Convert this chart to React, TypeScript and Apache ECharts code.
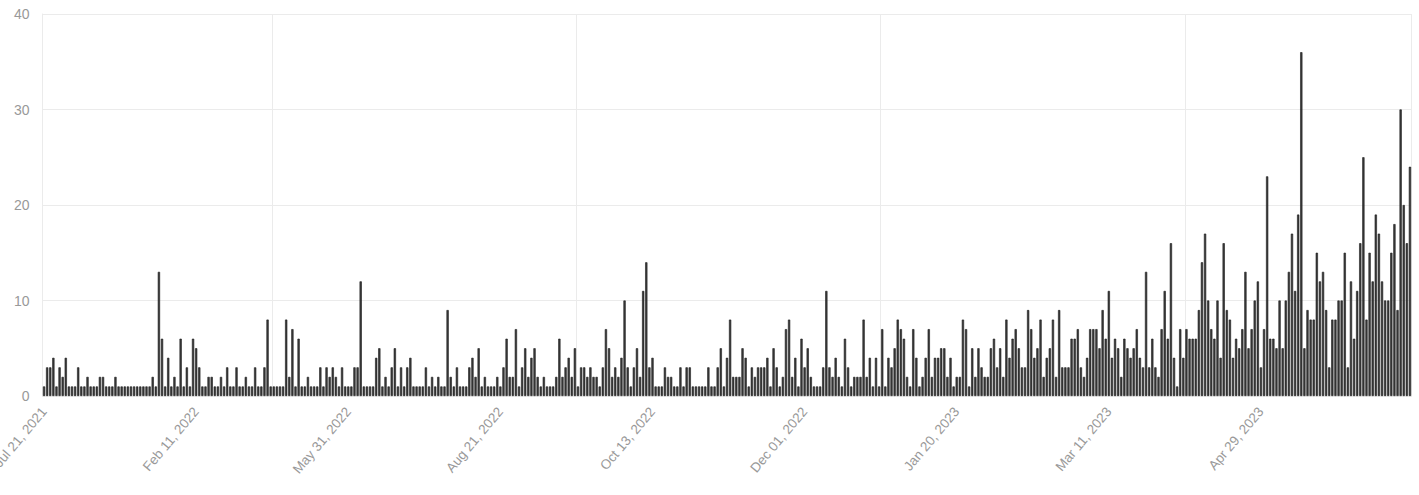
import * as echarts from 'echarts'
import { useEffect, useRef } from 'react'

/** 每日数量（从左到右，一根柱子一天） */
const dailyCounts = [
  1, 3, 3, 4, 1, 3, 2, 4, 1, 1, 1, 3, 1, 1, 2, 1, 1, 1, 2, 2, 1, 1, 1, 2, 1, 1, 1, 1, 1, 1, 1, 1, 1, 1, 1, 2,
  1, 13, 6, 1, 4, 1, 2, 1, 6, 1, 3, 1, 6, 5, 3, 1, 1, 2, 2, 1, 1, 2, 1, 3, 1, 1, 3, 1, 1, 2, 1, 1, 3, 1, 1, 3, 8,
  1, 1, 1, 1, 1, 8, 2, 7, 1, 6, 1, 1, 2, 1, 1, 1, 3, 1, 3, 2, 3, 2, 1, 3, 1, 1, 1, 3, 3, 12, 1, 1, 1, 1, 4, 5, 1,
  2, 1, 3, 5, 1, 3, 1, 3, 4, 1, 1, 1, 1, 3, 1, 2, 1, 2, 1, 1, 9, 2, 1, 3, 1, 1, 1, 3, 4, 2, 5, 1, 2, 1, 1, 1, 2,
  1, 3, 6, 2, 2, 7, 1, 3, 5, 2, 4, 5, 2, 1, 2, 1, 1, 1, 2, 6, 2, 3, 4, 2, 5, 1, 3, 3, 2, 3, 2, 2, 1, 3, 7, 5, 2,
  3, 2, 4, 10, 3, 1, 3, 5, 2, 11, 14, 3, 4, 1, 1, 1, 3, 2, 2, 1, 1, 3, 1, 3, 3, 1, 1, 1, 1, 1, 3, 1, 1, 3, 5, 1, 4,
  8, 2, 2, 2, 5, 4, 1, 3, 2, 3, 3, 3, 4, 1, 5, 3, 1, 2, 7, 8, 2, 4, 1, 6, 3, 5, 2, 1, 1, 1, 3, 11, 3, 2, 4, 2, 1,
  6, 3, 1, 2, 2, 2, 8, 2, 4, 1, 4, 1, 7, 1, 4, 3, 5, 8, 7, 6, 2, 1, 7, 4, 1, 2, 4, 7, 2, 4, 4, 5, 5, 2, 4, 1, 2,
  2, 8, 7, 1, 5, 2, 5, 3, 2, 2, 5, 6, 3, 5, 2, 8, 4, 6, 7, 5, 3, 3, 9, 7, 4, 5, 8, 2, 4, 5, 8, 2, 9, 3, 3, 3, 6, 6,
  7, 3, 2, 4, 7, 7, 7, 5, 9, 6, 11, 4, 6, 5, 2, 6, 5, 4, 5, 7, 4, 3, 13, 3, 6, 3, 2, 7, 11, 6, 16, 4, 1, 7, 4, 7, 6,
  6, 6, 9, 14, 17, 10, 7, 6, 10, 4, 16, 9, 8, 4, 6, 5, 7, 13, 5, 7, 10, 12, 3, 7, 23, 6, 6, 5, 10, 5, 10, 13, 17, 11, 19, 36, 5,
  9, 8, 8, 15, 12, 13, 9, 3, 8, 8, 10, 10, 15, 3, 12, 6, 11, 16, 25, 8, 15, 12, 19, 17, 12, 10, 10, 15, 18, 9, 30, 20, 16, 24,
]

/** 横轴只显示这些日期，每隔 labelEvery 根柱子一个 */
const tickLabels = [
  'Jul 21, 2021',
  'Feb 11, 2022',
  'May 31, 2022',
  'Aug 21, 2022',
  'Oct 13, 2022',
  'Dec 01, 2022',
  'Jan 20, 2023',
  'Mar 11, 2023',
  'Apr 29, 2023',
]
const labelEvery = 49

/** 竖向网格线落在这些柱子的左边界 */
const gridLineIndexes = [74, 172, 270, 368]

const yTicks = [0, 10, 20, 30, 40]

const categories = dailyCounts.map((_, i) =>
  i % labelEvery === 0 && tickLabels[i / labelEvery] ? tickLabels[i / labelEvery] : `d${i}`,
)

const gridColor = '#ebebeb'
const labelColor = '#999999'
const font = '"Liberation Sans", Arial, Helvetica, sans-serif'

export default function App() {
  const ref = useRef<HTMLDivElement>(null)

  useEffect(() => {
    if (!ref.current) return
    const chart = echarts.init(ref.current, undefined, { renderer: 'svg' })
    chart.setOption({
      animation: false,
      grid: { left: 42.5, right: 7.5, top: 14, bottom: 99, containLabel: false, outerBoundsMode: 'none' },
      xAxis: {
        type: 'category',
        data: categories,
        boundaryGap: true,
        axisLine: { show: true, lineStyle: { color: gridColor } },
        axisTick: { show: false },
        axisLabel: {
          interval: (i: number) => i % labelEvery === 0,
          rotate: 50,
          margin: 13,
          color: labelColor,
          fontSize: 13.5,
          fontFamily: font,
        },
        splitLine: {
          show: true,
          interval: (i: number) => gridLineIndexes.includes(i),
          lineStyle: { color: gridColor, width: 1 },
        },
      },
      yAxis: {
        type: 'value',
        min: yTicks[0],
        max: yTicks[yTicks.length - 1],
        interval: 10,
        axisLine: { show: true, lineStyle: { color: gridColor } },
        axisTick: { show: false },
        axisLabel: { color: labelColor, fontSize: 14, fontFamily: font, margin: 13 },
        splitLine: { show: true, lineStyle: { color: gridColor, width: 1 } },
      },
      series: [
        {
          type: 'bar',
          data: dailyCounts,
          barCategoryGap: '28%',
          itemStyle: { color: '#3c3c3c', borderColor: '#1a1a1a', borderWidth: 0.6 },
        },
      ],
    })
    return () => chart.dispose()
  }, [])

  return <div ref={ref} style={{ position: 'absolute', left: 0, top: 0, width: 1419, height: 495 }} />
}
